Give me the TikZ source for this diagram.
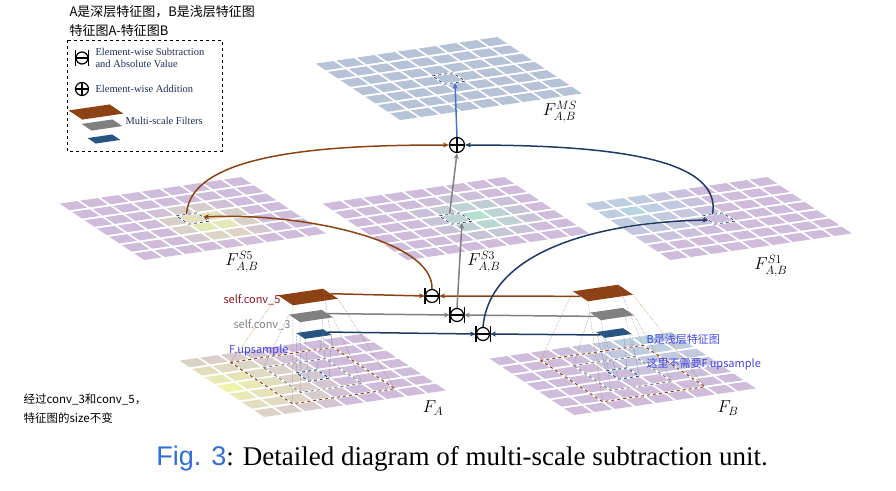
\documentclass[tikz,border=0pt]{standalone}
\usepackage{fontspec}
\setmainfont{Liberation Serif}
\newfontfamily\cjk{Noto Sans CJK SC}
\newfontfamily\capfont{Liberation Sans}
\usetikzlibrary{arrows.meta,calc}
\definecolor{pbase}{RGB}{206,188,218}
\definecolor{msbase}{RGB}{182,194,214}
\definecolor{hgreen}{RGB}{178,228,206}
\definecolor{hyell}{RGB}{238,244,170}
\definecolor{hblue}{RGB}{184,212,226}
\definecolor{cbrown}{RGB}{140,66,20}
\definecolor{cgray}{RGB}{128,128,128}
\definecolor{cnavy}{RGB}{32,56,100}
\definecolor{cfblue}{RGB}{40,84,130}
\definecolor{cblue}{RGB}{68,114,196}
\definecolor{lnavy}{RGB}{31,45,90}
\definecolor{lblue}{RGB}{70,70,220}
\definecolor{capblue}{RGB}{50,110,210}
\definecolor{dred}{RGB}{140,20,30}
% #1 name, #2 ox, #3 oy, #4 base, #5 hl, #6 ci, #7 cj, #8 falloff
\newcommand\fmap[8]{%
 \begin{scope}[shift={(#2,#3)},x={(20.5pt,3pt)},y={(12.43pt,-8.29pt)}]
 \foreach \i in {0,...,8}{\foreach \j in {0,...,6}{%
   \pgfmathtruncatemacro\mixv{max(0,min(100,100-#8*sqrt((\i-#6)^2+(\j-#7)^2)))}%
   \fill[#5!\mixv!#4] (\i+0.07,\j+0.1)--(\i+0.93,\j+0.1)--(\i+0.93,\j+0.9)--(\i+0.07,\j+0.9)--cycle;}}
 \coordinate (#1-c) at (4.5,3.5);
 \coordinate (#1-n) at (4.5,3);
 \coordinate (#1-s) at (4.5,4);
 \coordinate (#1-e) at (5,3.5);
 \coordinate (#1-w) at (4,3.5);
 \coordinate (#1-b1) at (2,1); \coordinate (#1-b2) at (7,1); \coordinate (#1-b3) at (7,6); \coordinate (#1-b4) at (2,6);
 \coordinate (#1-g1) at (3,2); \coordinate (#1-g2) at (6,2); \coordinate (#1-g3) at (6,5); \coordinate (#1-g4) at (3,5);
 \coordinate (#1-l1) at (4,3); \coordinate (#1-l2) at (5,3); \coordinate (#1-l3) at (5,4); \coordinate (#1-l4) at (4,4);
 \end{scope}}
% filter: #1 name, #2 cx, #3 cy, #4 colour, #5 a, #6 b
\newcommand\filt[6]{%
 \begin{scope}[shift={(#2,#3)},x={(20.5pt,3pt)},y={(12.43pt,-8.29pt)}]
 \coordinate (#1-1) at (-#5,-#6); \coordinate (#1-2) at (#5,-#6);
 \coordinate (#1-3) at (#5,#6); \coordinate (#1-4) at (-#5,#6);
 \coordinate (#1-e) at (#5,0); \coordinate (#1-w) at (-#5,0);
 \fill[#4] (#1-1)--(#1-2)--(#1-3)--(#1-4)--cycle;
 \end{scope}}
\tikzset{
 arr/.style={line width=1.5pt,-{Stealth[length=6pt,width=5pt]}},
 subn/.style={circle,draw,line width=1.2pt,minimum size=13pt,inner sep=0pt},
 addn/.style={circle,draw,line width=1.2pt,minimum size=15pt,inner sep=0pt},
 box/.style={dashed,line width=0.7pt},
 ray/.style={densely dotted,line width=0.5pt},
 lab/.style={font=\fontsize{18}{19}\selectfont},
 leg/.style={text=lnavy,font=\fontsize{10.5}{12}\selectfont,anchor=west,align=left},
}
\newcommand\subsym[1]{%
 \draw[line width=1.2pt] (#1.west)--(#1.east);
 \draw[line width=1.2pt] ([yshift=8pt]#1.west)--([yshift=-8pt]#1.west);
 \draw[line width=1.2pt] ([yshift=8pt]#1.east)--([yshift=-8pt]#1.east);}
\newcommand\addsym[1]{%
 \draw[line width=1.2pt] (#1.west)--(#1.east) (#1.north)--(#1.south);}
\begin{document}
\begin{tikzpicture}[x=1pt,y=-1pt]
\useasboundingbox (0,0) rectangle (896,490);
% grids
\fmap{MS}{313}{63}{msbase}{msbase}{4}{3}{35}
\fmap{S5}{57}{203}{pbase}{hyell}{4.5}{3.7}{40}
\fmap{S3}{320}{203}{pbase}{hgreen}{5}{3.2}{38}
\fmap{S1}{583}{203}{pbase}{hblue}{1}{1}{25}
\fmap{FA}{177}{360}{pbase}{hyell}{0}{3}{20}
\fmap{FB}{487}{358}{pbase}{hblue}{7}{0}{22}
\foreach \g in {MS,S5,S3,S1}{\draw[box,cnavy] (\g-l1)--(\g-l2)--(\g-l3)--(\g-l4)--cycle;}
\foreach \g in {FA,FB}{
 \draw[box,cbrown,line width=1pt] (\g-b1)--(\g-b2)--(\g-b3)--(\g-b4)--cycle;
 \draw[box,cgray,line width=1pt] (\g-g1)--(\g-g2)--(\g-g3)--(\g-g4)--cycle;
 \draw[box,cfblue,line width=1pt] (\g-l1)--(\g-l2)--(\g-l3)--(\g-l4)--cycle;}
% filters
\filt{Af5}{308}{297}{cbrown}{1.1}{0.6}
\filt{Af3}{311}{316}{cgray}{0.8}{0.45}
\filt{Af1}{314}{334}{cfblue}{0.65}{0.35}
\filt{Bf5}{603}{293}{cbrown}{1.1}{0.6}
\filt{Bf3}{612}{314}{cgray}{0.8}{0.45}
\filt{Bf1}{614}{333}{cfblue}{0.65}{0.35}
\foreach \g/\p in {FA/Af,FB/Bf}{
 \foreach \k in {1,...,4}{
  \draw[ray,cbrown!70] (\p5-\k)--(\g-b\k);
  \draw[ray,cgray] (\p3-\k)--(\g-g\k);
  \draw[ray,cfblue!80] (\p1-\k)--(\g-l\k);}}
% operators
\node[addn] (add) at (457,145) {};
\addsym{add}
\node[subn] (s5) at (432,296) {};
\node[subn] (s3) at (457,315) {};
\node[subn] (s1) at (483,334) {};
\subsym{s5}\subsym{s3}\subsym{s1}
% horizontal connectors
\draw[arr,cbrown] (Af5-e)--(s5.west);
\draw[arr,cbrown] (Bf5-w)--(s5.east);
\draw[arr,cgray] (Af3-e)--(s3.west);
\draw[arr,cgray] (Bf3-w)--(s3.east);
\draw[arr,cnavy] (Af1-e)--(s1.west);
\draw[arr,cnavy] (Bf1-w)--(s1.east);
% vertical / curves
\draw[arr,cgray] (s3.north)--(S3-s);
\draw[arr,cgray] (S3-n)--(add.south);
\draw[arr,cblue] (add.north)--(MS-s);
\draw[arr,cbrown] (s5.north) .. controls (434,240) and (300,212) .. (S5-e);
\draw[arr,cbrown] (S5-n) .. controls (190,150) and (340,145) .. (add.west);
\draw[arr,cnavy] (s1.north) .. controls (490,250) and (600,222) .. (S1-w);
\draw[arr,cnavy] (S1-n) .. controls (722,160) and (620,145) .. (add.east);
% labels
\node[lab] (l5) at (242,262) {$F_{A,B}^{S5}$};
\node[lab] (l3) at (484,262) {$F_{A,B}^{S3}$};
\node[lab] (l1) at (771,266) {$F_{A,B}^{S1}$};
\node[lab] (lms) at (560,112) {$F_{A,B}^{MS}$};
\node[lab] (la) at (433,408) {$F_{A}$};
\node[lab] (lb) at (728,408) {$F_{B}$};
\node[anchor=east,text=dred,font=\cjk\fontsize{11}{12}\selectfont] (t5) at (284,300) {self.conv\_5};
\node[anchor=east,text=cgray,font=\cjk\fontsize{11}{12}\selectfont] (t3) at (294,325) {self.conv\_3};
\node[anchor=east,text=lblue,font=\cjk\fontsize{11}{12}\selectfont] (t1) at (292,350) {F.upsample};
\node[anchor=west,text=lblue,font=\cjk\fontsize{11}{12}\selectfont] (tb1) at (643,339) {B是浅层特征图};
\node[anchor=west,text=lblue,font=\cjk\fontsize{11}{12}\selectfont] (tb2) at (643,364) {这里不需要F.upsample};
\node[anchor=west,font=\cjk\fontsize{13}{14}\selectfont] (top1) at (66,12) {A是深层特征图，B是浅层特征图};
\node[anchor=west,font=\cjk\fontsize{13}{14}\selectfont] (top2) at (66,31) {特征图A-特征图B};
\node[anchor=west,font=\cjk\fontsize{11.5}{13}\selectfont] (bl1) at (20,399) {经过conv\_3和conv\_5，};
\node[anchor=west,font=\cjk\fontsize{11.5}{13}\selectfont] (bl2) at (20,418) {特征图的size不变};
% legend
\draw[dashed,line width=0.8pt] (67,40) rectangle (222,151);
\node[subn,minimum size=12pt] (lsub) at (82,58) {};
\subsym{lsub}
\node[leg] (lt1) at (92,58) {Element-wise Subtraction\\and Absolute Value};
\node[addn,minimum size=13pt] (ladd) at (82,89) {};
\addsym{ladd}
\node[leg] (lt2) at (92,89) {Element-wise Addition};
\filt{Lf5}{96}{112}{cbrown}{1.0}{0.55}
\filt{Lf3}{102}{125}{cgray}{0.75}{0.4}
\filt{Lf1}{104}{139}{cfblue}{0.6}{0.33}
\node[leg] (lt3) at (122,121) {Multi-scale Filters};
% caption
\node[font=\fontsize{27}{30}\selectfont] (cap) at (462,459) {{\capfont\color{capblue}Fig. 3}: Detailed diagram of multi-scale subtraction unit.};
\end{tikzpicture}
\end{document}
